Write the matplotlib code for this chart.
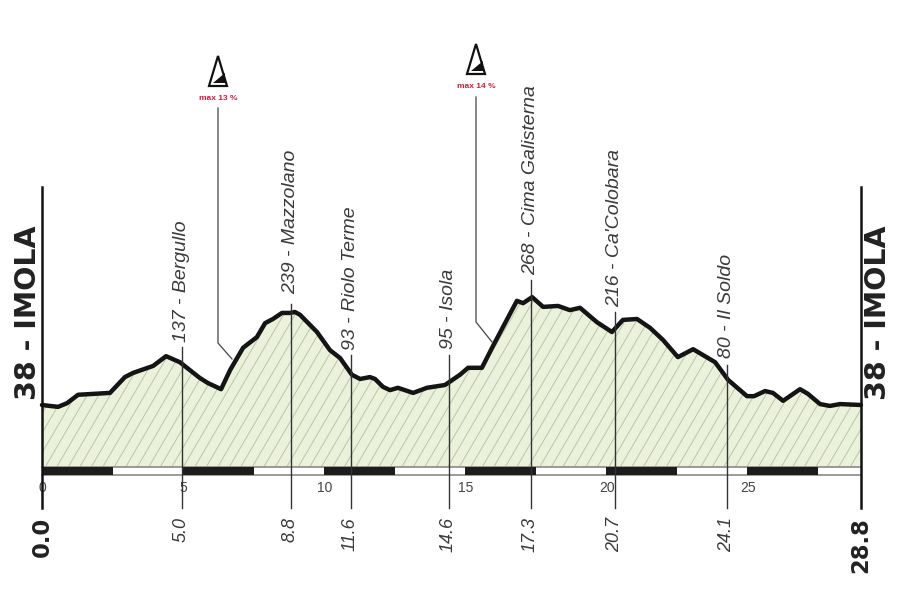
import numpy as np
import matplotlib
matplotlib.use('Agg')
import matplotlib.pyplot as plt
from matplotlib.collections import LineCollection
from matplotlib.patches import Polygon
from matplotlib.transforms import blended_transform_factory

# profile
KM = [0, 0.28, 0.57, 0.89, 1.28, 2.41, 2.94, 3.23, 3.94, 4.40, 4.89, 5.60, 5.89, 6.35,
      6.67, 7.13, 7.62, 7.91, 8.19, 8.51, 8.79, 8.97, 9.15, 9.75, 10.21, 10.57, 10.99,
      11.28, 11.63, 11.81, 12.09, 12.34, 12.62, 13.16, 13.65, 14.29, 14.82, 15.11, 15.60,
      15.96, 16.35, 16.84, 17.06, 17.38, 17.77, 18.30, 18.72, 19.08, 19.68, 20.21, 20.60,
      21.10, 21.56, 22.02, 22.55, 23.09, 23.87, 24.33, 25.0, 25.25, 25.64, 25.92, 26.28,
      26.88, 27.16, 27.59, 27.94, 28.30, 29.04]
ELEV = [38, 36, 34, 42, 60, 64, 98, 107, 122, 143, 130, 96, 85, 72,
        113, 161, 184, 214, 223, 236, 236, 238, 232, 195, 156, 139, 103,
        94, 98, 94, 77, 70, 75, 64, 75, 81, 103, 118, 118,
        161, 206, 262, 257, 270, 249, 251, 242, 247, 216, 195, 221,
        223, 204, 178, 141, 158, 130, 92, 57, 57, 68, 64, 47,
        72, 62, 40, 36, 40, 38]

# climbs/towns: drawn position, road km label, name label
POINT_KM = [4.96, 8.83, 10.96, 14.43, 17.34, 20.32, 24.29]
POINT_DIST = ['5.0', '8.8', '11.6', '14.6', '17.3', '20.7', '24.1']
POINT_NAMES = ['137 - Bergullo', '239 - Mazzolano', '93 - Riolo Terme', '95 - Isola',
               '268 - Cima Galisterna', "216 - Ca'Colobara", '80 - Il Soldo']
KM_TICKS = [0, 5, 10, 15, 20, 25]
FINISH_KM = 29.04
START_LABEL = '38 - IMOLA'
GRADIENTS = ['max 13 %', 'max 14 %']

X0, PX_KM = 42.0, 28.2
Y38, PX_M = 405.0, 0.465
BASE = 38 - (467 - Y38) / PX_M

fig = plt.figure(figsize=(9, 6), dpi=100)
ax = fig.add_axes([0, 0, 1, 1])
ax.set_xlim(-X0 / PX_KM, (900 - X0) / PX_KM)
ax.set_ylim(38 - (600 - Y38) / PX_M, 38 + Y38 / PX_M)
ax.axis('off')

# overlay in image pixels for the furniture
pa = fig.add_axes([0, 0, 1, 1], facecolor='none')
pa.set_xlim(0, 900)
pa.set_ylim(600, 0)
pa.axis('off')
stem_tf = blended_transform_factory(ax.transData, pa.transData)

# profile fill with slanted hatching clipped to it
outline = list(zip(KM, ELEV)) + [(FINISH_KM, BASE), (0, BASE)]
fill = Polygon(outline, closed=True, facecolor='#ebf2dc', edgecolor='none', zorder=1)
ax.add_patch(fill)
offs = np.arange(40, 1000, 11.5)
segs = [[(o, 470), (o + 105, 290)] for o in offs - 100]
hatch = LineCollection(segs, colors='#b9c4a8', linewidths=0.7, transform=pa.transData, zorder=2)
ax.add_collection(hatch, autolim=False)
hatch.set_clip_path(fill)
ax.plot(KM, ELEV, color='#141414', lw=3.2, solid_joinstyle='round', solid_capstyle='round', zorder=5)

# km bar
bar_h = 7.5 / PX_M
ax.plot([0, FINISH_KM], [BASE, BASE], color='#8a8a8a', lw=1.2, zorder=3)
ax.plot([0, FINISH_KM], [BASE - bar_h, BASE - bar_h], color='#8a8a8a', lw=1.2, zorder=3)
for s in np.arange(0, 27.5, 5):
    ax.bar(s, bar_h, width=2.5, bottom=BASE - bar_h, align='edge', color='#1c1c1c', zorder=4)

for k in KM_TICKS:
    ax.text(k + 0.02, 488, str(k), transform=stem_tf, ha='center', va='center', color='#444444',
            fontsize=10, family='Liberation Sans', zorder=2)

# stems and labels
STEM_TOPS = [347, 304, 355, 355, 280, 312, 365]
NAME_BOTTOMS = [342, 294, 350, 349, 275, 307, 358]
for k, dist, name, top, bot in zip(POINT_KM, POINT_DIST, POINT_NAMES, STEM_TOPS, NAME_BOTTOMS):
    ax.plot([k, k], [top, 508], transform=stem_tf, color='#333333', lw=1.0, zorder=6)
    ax.text(k - 0.03, bot, name, transform=stem_tf, rotation=90, ha='center', va='bottom',
            fontsize=14, style='italic', family='Liberation Sans', color='#3a3a3a')
    ax.text(k - 0.03, 517, dist, transform=stem_tf, rotation=90, ha='center', va='top',
            fontsize=13, style='italic', family='Liberation Sans', color='#3a3a3a')

# start and finish
for k, dist in [(0, '0.0'), (FINISH_KM, '28.8')]:
    ax.plot([k, k], [187, 508], transform=stem_tf, color='#111111', lw=1.8, zorder=6)
    ax.text(k, 517, dist, transform=stem_tf, rotation=90, ha='center', va='top',
            fontsize=16.3, fontweight='bold', family='DejaVu Sans', color='#222222')
for tx in [28, 878]:
    pa.text(tx, 400, START_LABEL, rotation=90, ha='center', va='bottom', fontsize=20.5,
            fontweight='bold', family='DejaVu Sans', color='#222222')

# gradient callouts
for label, cx, top, label_y, line_top, kink, tip in [
        (GRADIENTS[0], 218, 56, 98, 108, (218, 343), (232, 359)),
        (GRADIENTS[1], 476, 44, 86, 97, (476, 322), (492, 342))]:
    pa.add_patch(Polygon([(cx, top), (cx + 9, top + 30), (cx - 9, top + 30)], closed=True,
                         facecolor='white', edgecolor='#111111', lw=1.6))
    pa.add_patch(Polygon([(cx - 5, top + 27), (cx + 7, top + 17), (cx + 7, top + 27)], closed=True,
                         facecolor='#111111', edgecolor='none'))
    pa.text(cx, label_y, label, ha='center', va='center', fontsize=6, fontweight='bold',
            family='Liberation Sans', color='#d01c3a')
    pa.plot([cx, kink[0], tip[0]], [line_top, kink[1], tip[1]], color='#444444', lw=0.9)

fig.savefig('out.png', dpi=100)
